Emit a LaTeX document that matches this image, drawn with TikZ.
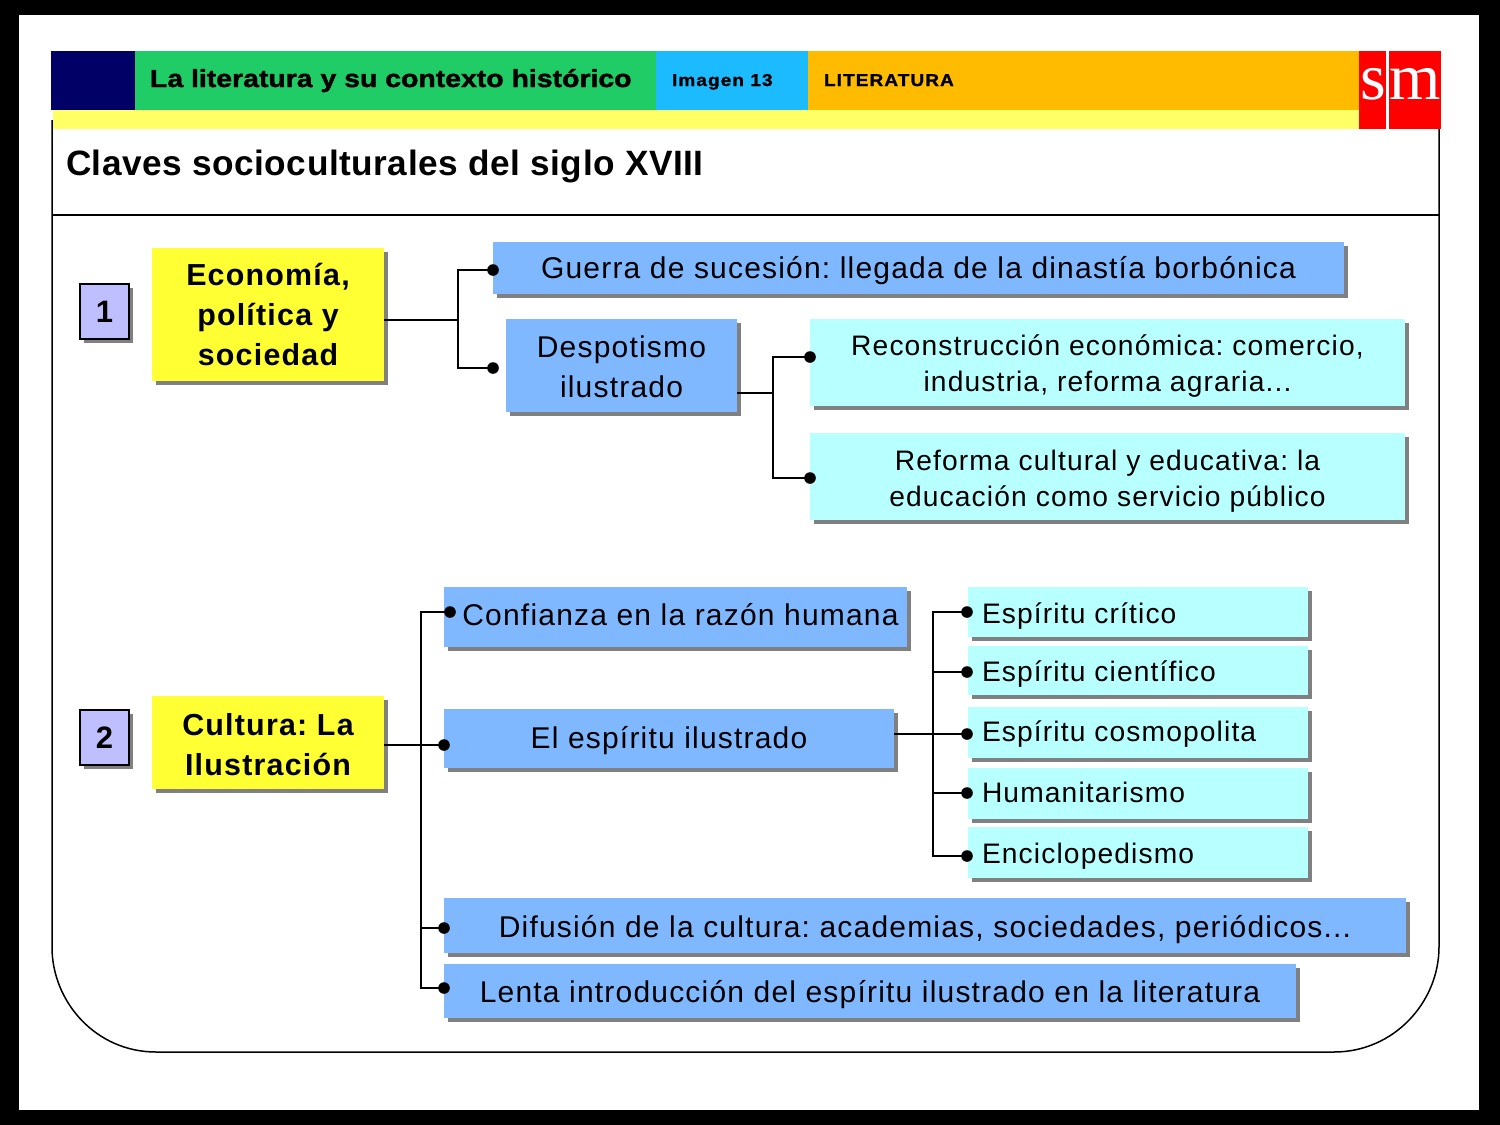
\documentclass[tikz,border=0pt]{standalone}
\usepackage{fontspec}
\usetikzlibrary{shadows}
\setmainfont{Liberation Sans}
\newfontfamily\bodyf[LetterSpace=4]{Liberation Sans}
\newfontfamily\boldf[LetterSpace=4,UprightFont={Liberation Sans Bold}]{Liberation Sans}
\newfontfamily\numf[UprightFont={Liberation Sans Bold}]{Liberation Sans}
\newfontfamily\titlef[UprightFont={Liberation Sans Bold},LetterSpace=1.5]{Liberation Sans}
\newfontfamily\hdrf[UprightFont={Liberation Sans Bold},FakeBold=1.6,FakeStretch=1.155]{Liberation Sans}
\newfontfamily\hdrsf[UprightFont={Liberation Sans Bold},FakeBold=1.2,LetterSpace=6,FakeStretch=1.11]{Liberation Sans}
\newfontfamily\logof{Liberation Serif}
\definecolor{cblue}{HTML}{80B8FF}
\definecolor{ccyan}{HTML}{B8FFFF}
\definecolor{cyel}{HTML}{FFFF33}
\definecolor{cnum}{HTML}{BFBFFF}
\definecolor{cshadow}{HTML}{808080}
\definecolor{hnavy}{HTML}{000066}
\definecolor{hgreen}{HTML}{1FCC66}
\definecolor{hblue}{HTML}{1CBBFF}
\definecolor{horange}{HTML}{FFBB00}
\definecolor{hyel}{HTML}{FFFF66}
\tikzset{
  x=0.5pt,y=-0.5pt,
  boxbase/.style={inner sep=0pt,outer sep=0pt,text=black,
    general shadow={fill=cshadow,shadow xshift=2pt,shadow yshift=-2pt}},
  bluebox/.style={boxbase,fill=cblue,font=\frenchspacing\bodyf\fontsize{15}{20}\selectfont},
  cyanbox/.style={boxbase,fill=ccyan,font=\frenchspacing\bodyf\fontsize{14.1}{18}\selectfont},
  yelbox/.style={boxbase,fill=cyel,font=\frenchspacing\boldf\fontsize{15.2}{19.8}\selectfont},
  numbox/.style={boxbase,fill=cnum,draw=black,line width=0.8pt,font=\numf\fontsize{15.5}{18}\selectfont},
  band/.style={inner sep=0pt,outer sep=0pt,text=black},
  frameline/.style={draw=black,line width=0.75pt},
  conn/.style={draw=black,line width=0.75pt},
  dotend/.style={circle,fill=black,inner sep=0pt,minimum size=5.8pt,outer sep=0pt},
}
% [style]{name}{vertical text shift in px}{x0}{y0}{x1}{y1}{text}
\newcommand{\bx}[8][]{%
  \pgfmathsetmacro{\cxx}{(#4+#6)/2}\pgfmathsetmacro{\cyy}{(#5+#7)/2}%
  \pgfmathsetmacro{\www}{(#6-#4)/2}\pgfmathsetmacro{\hhh}{(#7-#5)/2}%
  \node[#1,minimum width=\www pt,minimum height=\hhh pt] (#2) at (\cxx,\cyy)
    {\vbox{\vskip #3pt\hbox{\parbox{\www pt}{\centering #8}}}};}
\newcommand{\bnd}[7][]{%
  \pgfmathsetmacro{\cxx}{(#3+#5)/2}\pgfmathsetmacro{\cyy}{(#4+#6)/2}%
  \pgfmathsetmacro{\www}{(#5-#3)/2}\pgfmathsetmacro{\hhh}{(#6-#4)/2}%
  \node[band,#1,minimum width=\www pt,minimum height=\hhh pt] (#2) at (\cxx,\cyy) {#7};}
\begin{document}
\begin{tikzpicture}
\useasboundingbox (0,0) rectangle (1500,1125);
\fill[black] (0,0) rectangle (1500,1125);
\fill[white] (19,15) rectangle (1479,1110);
% frame
\draw[frameline] (52,120) -- (52,947) .. controls (52,1002) and (96,1052) .. (156,1052)
  -- (1334,1052) .. controls (1394,1052) and (1439,1002) .. (1439,947) -- (1439,120);
\draw[frameline] (52,215) -- (1439,215);
% header
\bnd[fill=hyel]{hy}{53}{110}{1359}{129}{}
\bnd[fill=hnavy]{hn}{51}{51}{135}{110}{}
\bnd[fill=hgreen]{hg}{135}{51}{656}{110}{}
\bnd[fill=hblue]{hb}{656}{51}{808}{110}{}
\bnd[fill=horange]{ho}{808}{51}{1359}{110}{}
\bnd[fill=red]{rs}{1359}{51}{1386}{129}{}
\bnd[fill=red]{rm}{1389}{51}{1441}{129}{}
\node[band,anchor=base,text=white,font=\logof\fontsize{33}{33}\selectfont] (ls) at (1373,99) {s};
\node[band,anchor=base,text=white,font=\logof\fontsize{33}{33}\selectfont] (lm) at (1415,99) {m};
\node[band,anchor=base west,font=\hdrf\fontsize{12.3}{14}\selectfont] (t1) at (150,87) {La literatura y su contexto histórico};
\node[band,anchor=base west,font=\hdrsf\fontsize{8.6}{10}\selectfont] (t2) at (672,86) {Imagen 13};
\node[band,anchor=base west,font=\hdrsf\fontsize{8.6}{10}\selectfont] (t3) at (824,86) {LITERATURA};
\node[band,anchor=base west,font=\titlef\fontsize{17.6}{20}\selectfont] (title) at (66,175) {Claves socioculturales del siglo XVIII};
% boxes
\bx[numbox]{n1}{0}{80}{284}{129}{339}{1}
\bx[numbox]{n2}{0}{80}{710}{129}{765}{2}
\bx[yelbox]{y1}{0}{152}{248}{384}{381}{Economía,\\política y\\sociedad}
\bx[yelbox]{y2}{2}{152}{696}{384}{789}{Cultura: La\\Ilustración}
\bx[bluebox]{b1}{3}{493}{242}{1344}{294}{Guerra de sucesión: llegada de la dinastía borbónica}
\bx[bluebox]{b2}{1.5}{506}{319}{737}{412}{Despotismo\\ilustrado}
\bx[cyanbox]{c1}{4}{810}{319}{1405}{406}{Reconstrucción económica: comercio,\\industria, reforma agraria...}
\bx[cyanbox]{c2}{4.5}{810}{433}{1405}{520}{Reforma cultural y educativa: la\\educación como servicio público}
\bx[bluebox]{b3}{-2}{444}{587}{907}{647}{\hspace*{5pt}Confianza en la razón humana}
\bx[bluebox]{b4}{2}{444}{709}{894}{768}{El espíritu ilustrado}
\bx[bluebox]{b5}{4}{444}{898}{1406}{953}{Difusión de la cultura: academias, sociedades, periódicos...}
\bx[bluebox]{b6}{4}{444}{964}{1296}{1018}{Lenta introducción del espíritu ilustrado en la literatura}
\bx[cyanbox]{e1}{4}{968}{587}{1308}{637}{\raggedright\hspace*{7pt}Espíritu crítico}
\bx[cyanbox]{e2}{4}{968}{646}{1308}{695}{\raggedright\hspace*{7pt}Espíritu científico}
\bx[cyanbox]{e3}{2}{968}{707}{1308}{758}{\raggedright\hspace*{7pt}Espíritu cosmopolita}
\bx[cyanbox]{e4}{-1}{968}{768}{1308}{819}{\raggedright\hspace*{7pt}Humanitarismo}
\bx[cyanbox]{e5}{4}{968}{827}{1308}{878}{\raggedright\hspace*{7pt}Enciclopedismo}
% connector end dots
\node[dotend] (db1) at (493,270) {};
\node[dotend] (db2) at (493,368) {};
\node[dotend] (dc1) at (810,357) {};
\node[dotend] (dc2) at (810,478) {};
\node[dotend] (db3) at (450,612) {};
\node[dotend] (db4) at (444,745) {};
\node[dotend] (db5) at (444,928) {};
\node[dotend] (db6) at (444,988) {};
\node[dotend] (de1) at (967,612) {};
\node[dotend] (de2) at (967,672) {};
\node[dotend] (de3) at (967,734) {};
\node[dotend] (de4) at (967,793) {};
\node[dotend] (de5) at (967,856) {};
% junctions
\coordinate (j1) at (458,320);
\coordinate (j2) at (773,393);
\coordinate (j3) at (421,745);
\coordinate (j4) at (933,734);
% connectors
\draw[conn] (y1.east |- j1) -- (j1) (db1.center) -| (j1) |- (db2.center);
\draw[conn] (b2.east |- j2) -- (j2) (dc1.center) -| (j2) |- (dc2.center);
\draw[conn] (y2.east |- j3) -- (db4.center);
\draw[conn] (db3.center) -| (j3) |- (db6.center);
\draw[conn] (j3 |- db5) -- (db5.center);
\draw[conn] (b4.east |- j4) -- (de3.center);
\draw[conn] (de1.center) -| (j4) |- (de5.center);
\draw[conn] (j4 |- de2) -- (de2.center);
\draw[conn] (j4 |- de4) -- (de4.center);
\end{tikzpicture}
\end{document}
